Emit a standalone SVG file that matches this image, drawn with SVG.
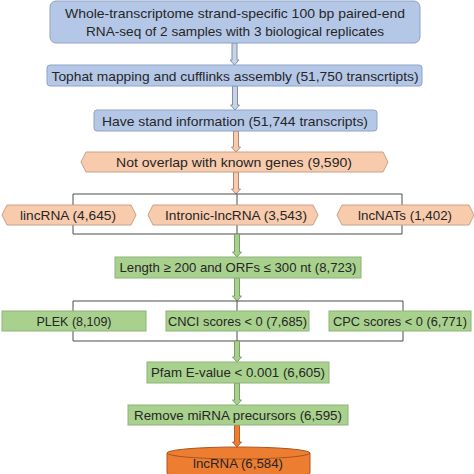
<svg xmlns="http://www.w3.org/2000/svg" width="474" height="474" viewBox="0 0 474 474">
<style>
text{font-family:"Liberation Sans",Arial,sans-serif;font-size:13px;fill:#262626;text-anchor:middle}
.blue{fill:#b4c7e7;stroke:#8fa3c4;stroke-width:1}
.org{fill:#f8cbad;stroke:#c4a18a;stroke-width:1}
.grn{fill:#a9d18e;stroke:#8db37a;stroke-width:1}
.br{fill:none;stroke:#4d4d4d;stroke-width:1}
.ab{fill:#c9d3e6;stroke:#7f8fae;stroke-width:1}
.ao{fill:#f8cbad;stroke:#b08878;stroke-width:1}
.ag{fill:#a9d18e;stroke:#799e66;stroke-width:1}
.as{fill:#ed7d31;stroke:#b5602a;stroke-width:1}
.cyl{fill:#ed7d31;stroke:#a85620;stroke-width:1}
</style>
<g id="connectors">
<path class="ab" d="M232,43 L237,43 L237,60 L239,60 L234.5,65 L230,60 L232,60 Z"/>
<path class="ab" d="M232.5,86 L237.5,86 L237.5,105 L239.5,105 L235,110 L230.5,105 L232.5,105 Z"/>
<path class="ao" d="M233.5,131 L238.5,131 L238.5,147 L240.5,147 L236,152 L231.5,147 L233.5,147 Z"/>
<path class="ao" d="M233.5,172 L238.5,172 L238.5,189 L240.5,189 L236,194 L231.5,189 L233.5,189 Z"/>
<path class="br" d="M73,194 H402 M73,234 H402 M73,194 V234 M237,194 V234 M402,194 V234"/>
<path class="ag" d="M234.5,234 L239.5,234 L239.5,252 L241.5,252 L237,257 L232.5,252 L234.5,252 Z"/>
<path class="ag" d="M234.5,278 L239.5,278 L239.5,296 L241.5,296 L237,301 L232.5,296 L234.5,296 Z"/>
<path class="br" d="M73,301 H403 M73,341 H403 M73,301 V341 M237,301 V341 M403,301 V341"/>
<path class="ag" d="M234.5,341 L239.5,341 L239.5,357 L241.5,357 L237,362 L232.5,357 L234.5,357 Z"/>
<path class="ag" d="M234.5,383 L239.5,383 L239.5,400 L241.5,400 L237,405 L232.5,400 L234.5,400 Z"/>
<path class="as" d="M234.5,425 L239.5,425 L239.5,442 L241.5,442 L237,447 L232.5,442 L234.5,442 Z"/>
</g>
<g id="n1"><rect class="blue" x="50" y="1" width="370" height="42" rx="6"/>
<text x="235" y="18" textLength="340" lengthAdjust="spacingAndGlyphs">Whole-transcriptome strand-specific 100 bp paired-end</text>
<text x="235" y="36" textLength="298" lengthAdjust="spacingAndGlyphs">RNA-seq of 2 samples with 3 biological replicates</text></g>
<g id="n2"><rect class="blue" x="47" y="65" width="375" height="21" rx="3"/>
<text x="235" y="81" textLength="367" lengthAdjust="spacingAndGlyphs">Tophat mapping and cufflinks assembly (51,750 transcrtipts)</text></g>
<g id="n3"><rect class="blue" x="94" y="110" width="283" height="21" rx="3"/>
<text x="235" y="125.5" textLength="266" lengthAdjust="spacingAndGlyphs">Have stand information (51,744 transcripts)</text></g>
<g id="n4"><polygon class="org" points="81,162 86,152 383,152 388,162 383,172 86,172"/>
<text x="234" y="167" textLength="236" lengthAdjust="spacingAndGlyphs">Not overlap with known genes  (9,590)</text></g>
<g id="n5"><polygon class="org" points="2,215 7,205 131,205 136,215 131,225 7,225"/>
<text x="68" y="220" textLength="96" lengthAdjust="spacingAndGlyphs">lincRNA (4,645)</text></g>
<g id="n6"><polygon class="org" points="148,215 153,205 313,205 318,215 313,225 153,225"/>
<text x="236" y="220" textLength="142" lengthAdjust="spacingAndGlyphs">Intronic-lncRNA (3,543)</text></g>
<g id="n7"><polygon class="org" points="337,215 342,205 469,205 474,215 469,225 342,225"/>
<text x="405" y="220" textLength="94" lengthAdjust="spacingAndGlyphs">lncNATs (1,402)</text></g>
<g id="n8"><rect class="grn" x="115" y="257" width="246" height="21"/>
<text x="238" y="272" textLength="237" lengthAdjust="spacingAndGlyphs">Length ≥ 200 and ORFs ≤ 300 nt (8,723)</text></g>
<g id="n9"><rect class="grn" x="2" y="311" width="144" height="20"/>
<text x="74" y="326" textLength="75" lengthAdjust="spacingAndGlyphs">PLEK (8,109)</text></g>
<g id="n10"><rect class="grn" x="166" y="311" width="143" height="20"/>
<text x="237.5" y="326" textLength="139" lengthAdjust="spacingAndGlyphs">CNCI scores &lt; 0 (7,685)</text></g>
<g id="n11"><rect class="grn" x="329" y="311" width="142" height="20"/>
<text x="400" y="326" textLength="134" lengthAdjust="spacingAndGlyphs">CPC scores &lt; 0 (6,771)</text></g>
<g id="n12"><rect class="grn" x="147" y="362" width="182" height="21"/>
<text x="238" y="377" textLength="174" lengthAdjust="spacingAndGlyphs">Pfam E-value &lt; 0.001 (6,605)</text></g>
<g id="n13"><rect class="grn" x="128" y="405" width="220" height="20"/>
<text x="238" y="420" textLength="208" lengthAdjust="spacingAndGlyphs">Remove miRNA precursors (6,595)</text></g>
<g id="n14"><path class="cyl" d="M167,453 V473 A71.5,6 0 0 0 310,473 V453"/>
<ellipse class="cyl" cx="238.5" cy="453" rx="71.5" ry="6"/>
<text x="238" y="468" textLength="90" lengthAdjust="spacingAndGlyphs">lncRNA (6,584)</text></g>
</svg>
